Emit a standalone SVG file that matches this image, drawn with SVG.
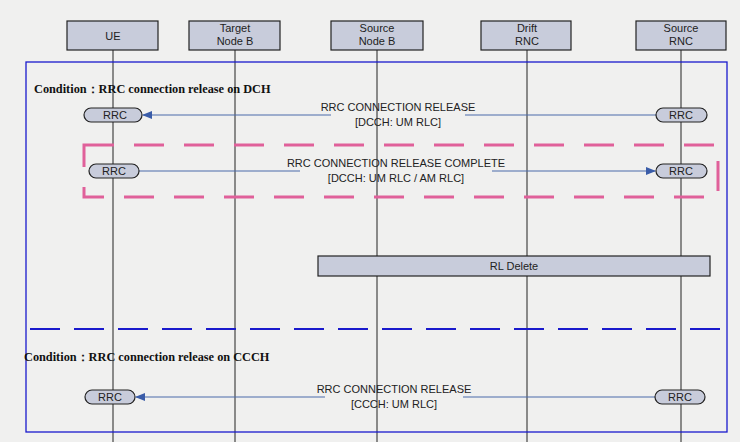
<svg xmlns="http://www.w3.org/2000/svg" width="740" height="442" viewBox="0 0 740 442">
<style>
.hd{fill:#c8ccdb;stroke:#222;stroke-width:1.2}
.t{font-family:"Liberation Sans Narrow","Liberation Sans",sans-serif;font-size:11px;fill:#222;text-anchor:middle}
.c{font-family:"Liberation Serif",serif;font-size:12.3px;font-weight:bold;fill:#111}
.ll{stroke:#222;stroke-width:1}
.pill{fill:#c8ccdb;stroke:#222;stroke-width:1.2}
.m{stroke:#4a6aaa;stroke-width:1;fill:none}
</style>
<defs><marker id="a" markerWidth="10" markerHeight="8" refX="9" refY="4" orient="auto" markerUnits="userSpaceOnUse"><path d="M0,0L10,4L0,8z" fill="#3a5ca8"/></marker></defs>
<rect width="740" height="442" fill="#f0f0ef"/>
<g id="lifelines">
<line class="ll" x1="113" y1="50" x2="113" y2="442"/>
<line class="ll" x1="235" y1="50" x2="235" y2="442"/>
<line class="ll" x1="377" y1="50" x2="377" y2="442"/>
<line class="ll" x1="527" y1="50" x2="527" y2="442"/>
<line class="ll" x1="681" y1="50" x2="681" y2="442"/>
</g>
<g id="ue"><rect class="hd" x="67" y="21" width="91" height="29"/><text class="t" x="113" y="40">UE</text></g>
<g id="tnb"><rect class="hd" x="189" y="21" width="91" height="29"/><text class="t" x="235" y="32">Target</text><text class="t" x="235" y="45">Node B</text></g>
<g id="snb"><rect class="hd" x="331" y="21" width="92" height="29"/><text class="t" x="377" y="32">Source</text><text class="t" x="377" y="45">Node B</text></g>
<g id="drnc"><rect class="hd" x="481" y="21" width="90" height="29"/><text class="t" x="527" y="32">Drift</text><text class="t" x="527" y="45">RNC</text></g>
<g id="srnc"><rect class="hd" x="636" y="21" width="90" height="29"/><text class="t" x="681" y="32">Source</text><text class="t" x="681" y="45">RNC</text></g>
<rect x="26" y="62" width="701" height="370" fill="none" stroke="#1a1acc" stroke-width="1.3"/>
<text class="c" x="34" y="93">Condition：RRC connection release on DCH</text>
<rect x="84" y="145" width="634" height="52" fill="none" stroke="#e0609a" stroke-width="3" stroke-dasharray="30,20"/>
<line x1="30" y1="329" x2="725" y2="329" stroke="#1a1acc" stroke-width="2" stroke-dasharray="30,14"/>
<text class="c" x="24" y="361">Condition：RRC connection release on CCCH</text>
<g id="connectors">
<line class="m" x1="656" y1="115" x2="465" y2="115"/><line class="m" x1="331" y1="115" x2="143" y2="115" marker-end="url(#a)"/>
<line class="m" x1="139" y1="171" x2="300" y2="171"/><line class="m" x1="492" y1="171" x2="655" y2="171" marker-end="url(#a)"/>
<line class="m" x1="655" y1="397" x2="463" y2="397"/><line class="m" x1="325" y1="397" x2="136" y2="397" marker-end="url(#a)"/>
</g>
<g id="msg1"><text class="t" x="398" y="111">RRC CONNECTION RELEASE</text><text class="t" x="398" y="126">[DCCH: UM RLC]</text></g>
<g id="msg2"><text class="t" x="396" y="167">RRC CONNECTION RELEASE COMPLETE</text><text class="t" x="396" y="182">[DCCH: UM RLC / AM RLC]</text></g>
<g id="msg3"><text class="t" x="394" y="393">RRC CONNECTION RELEASE</text><text class="t" x="394" y="408">[CCCH: UM RLC]</text></g>
<g id="pills">
<rect class="pill" x="84" y="108" width="58" height="14" rx="7"/><text class="t" x="115" y="119">RRC</text>
<rect class="pill" x="656" y="108" width="51" height="14" rx="7"/><text class="t" x="681" y="119">RRC</text>
<rect class="pill" x="89" y="164" width="50" height="14" rx="7"/><text class="t" x="114" y="175">RRC</text>
<rect class="pill" x="656" y="164" width="51" height="14" rx="7"/><text class="t" x="681" y="175">RRC</text>
<rect class="pill" x="85" y="390" width="50" height="14" rx="7"/><text class="t" x="110" y="401">RRC</text>
<rect class="pill" x="655" y="390" width="50" height="14" rx="7"/><text class="t" x="680" y="401">RRC</text>
</g>
<g id="rldelete"><rect class="hd" x="318" y="256" width="392" height="20"/><text class="t" x="514" y="270">RL Delete</text></g>
</svg>
